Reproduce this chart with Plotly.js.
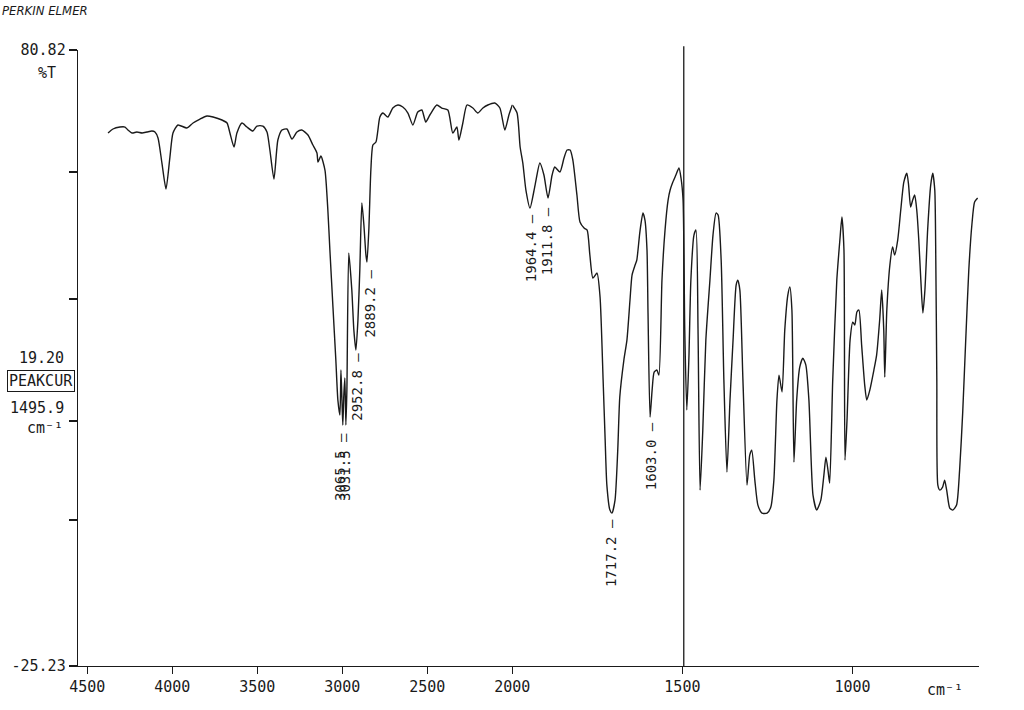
<!DOCTYPE html>
<html>
<head>
<meta charset="utf-8">
<script src="https://cdn.plot.ly/plotly-3.0.1.min.js"></script>
<style>html,body{margin:0;padding:0;background:#fff;}#chart{width:1024px;height:710px;}</style>
</head>
<body>
<div id="chart"></div>
<script>
// Wavenumber (cm-1) and %T
var wavenumber = [4378,4349,4308,4278,4261,4237,4208,4178,4149,4120,4102,4084,4061,4037,4014,3996,3967,3914,3878,3837,3796,3760,3708,3678,3661,3637,3620,3590,3561,3526,3502,3467,3443,3426,3402,3379,3355,3326,3296,3267,3238,3202,3173,3149,3143,3126,3102,3085,3073,3055,3038,3026,3014,3008,3002,2997,2991,2985,2979,2973,2962,2944,2932,2920,2908,2897,2885,2873,2861,2855,2844,2832,2820,2802,2779,2761,2732,2703,2673,2644,2614,2585,2556,2532,2509,2485,2444,2415,2379,2350,2326,2314,2291,2267,2232,2203,2173,2144,2103,2073,2044,2020,2000,
1986,1977,1969,1960,1948,1933,1919,1907,1895,1883,1875,1860,1848,1839,1830,1822,1810,1801,1789,1780,1772,1763,1751,1742,1733,1727,1722,1713,1707,1698,1690,1684,1672,1663,1654,1648,1639,1634,1625,1616,1610,1604,1601,1595,1589,1583,1575,1569,1560,1551,1542,1536,1528,1519,1510,1504,1498,1493,1487,1481,1475,1466,1460,1454,1448,1440,1431,1419,1410,1401,1395,1386,1378,1369,1360,1351,1342,1337,1331,1322,1310,1302,1296,1287,1278,1266,1251,1240,1231,1222,1216,1207,1199,1190,1184,1178,1172,1164,1155,1146,1137,1128,1116,1105,1093,1084,1078,1072,1067,1058,1046,1037,1031,1025,1022,1016,1007,999,993,987,981,973,964,958,949,937,929,920,914,908,905,899,890,882,876,867,858,849,840,835,829,823,817,811,805,799,793,787,779,770,764,758,755,752,749,743,735,729,723,714,705,694,685,676,667,658,649,641,632];
var transmittance = [66.53,67.22,67.56,67.56,67.04,66.53,66.70,66.53,66.70,66.87,66.70,65.67,61.36,56.88,62.39,66.53,67.91,67.39,68.25,68.94,69.46,69.28,68.77,68.25,66.53,64.12,66.53,68.25,67.56,66.87,67.73,67.73,66.70,63.60,58.61,65.32,67.04,67.22,65.49,66.70,67.04,66.18,64.46,63.08,61.53,62.57,60.16,53.27,46.38,36.57,27.44,20.55,17.97,25.72,20.55,16.25,21.41,24.34,16.25,22.27,45.86,39.49,32.60,29.16,34.33,42.94,54.47,50.69,45.52,44.31,49.82,60.16,64.46,64.98,69.28,69.97,69.28,70.83,71.35,71.00,69.97,67.91,70.14,70.49,68.42,69.63,71.35,70.83,70.49,66.53,67.56,65.32,68.25,71.35,70.83,69.97,70.83,71.35,71.69,70.83,67.04,69.63,71.35,
69.97,64.12,61.36,56.71,53.61,57.57,61.36,59.30,55.34,59.30,60.67,59.81,62.22,63.60,63.60,61.88,55.85,51.20,50.17,49.82,45.52,41.56,42.42,38.29,23.99,13.66,5.91,1.61,1.09,3.33,11.94,21.07,27.44,30.88,37.77,42.08,43.80,44.66,49.48,52.75,51.55,46.38,35.53,17.62,22.27,25.37,25.72,24.85,41.21,49.82,54.99,56.71,58.09,59.30,60.50,58.78,54.99,32.60,18.83,27.44,41.21,48.96,49.82,32.60,5.05,15.38,30.88,41.21,48.96,52.75,52.41,44.66,23.99,8.15,20.55,30.88,40.35,41.21,39.49,23.99,5.91,11.08,11.94,6.77,2.47,1.09,1.09,2.13,6.77,20.55,24.85,21.93,32.60,38.63,40.01,36.05,9.87,20.55,26.23,27.78,26.58,20.55,4.19,1.61,3.33,7.64,10.73,8.50,6.26,23.99,41.21,48.10,52.06,46.38,10.22,17.11,30.88,33.98,33.47,35.71,36.05,30.02,23.13,20.55,22.27,25.72,28.30,34.33,39.49,32.60,24.51,36.05,43.80,46.90,45.52,48.10,53.27,58.09,59.63,57.57,53.78,54.99,55.85,53.27,48.10,41.21,35.53,39.49,49.82,57.57,59.63,56.71,44.66,23.99,5.91,5.05,5.56,6.77,5.05,1.95,1.61,2.47,8.50,18.31,30.88,42.94,50.69,54.65,55.34];

// Axis scale values
var yTop = 80.82, yBottom = -25.23;
var yTickVals = [80.82, 59.81, 37.94, 16.93, -0.11, -25.23];
var yTickText = ['80.82', '', '', '', '', '-25.23'];
var xTicksHigh = [4500, 4000, 3500, 3000, 2500, 2000];
var xTicksLow = [1500, 1000];
var splitWn = 2000;

// Peak labels
var peakText = ['3065.5', '3031.5', '2952.8', '2889.2', '1964.4', '1911.8', '1717.2', '1603.0'];
var peakWn   = [3014, 2985, 2915, 2839, 1945, 1898, 1710, 1592];
var peakT    = [15.2, 15.2, 29.0, 43.3, 52.9, 54.1, 0.4, 17.1];

// Peak cursor
var cursorWn = 1495.9, cursorT = '19.20';

var hiX = [], hiY = [], loX = [], loY = [];
for (var i = 0; i < wavenumber.length; i++) {
  if (wavenumber[i] >= splitWn) { hiX.push(wavenumber[i]); hiY.push(transmittance[i]); }
  if (wavenumber[i] <= splitWn) { loX.push(wavenumber[i]); loY.push(transmittance[i]); }
}

var lineStyle = {color: '#1a1a1a', width: 1.4, shape: 'spline', smoothing: 0.6};
var traces = [
  {x: hiX, y: hiY, xaxis: 'x', yaxis: 'y', mode: 'lines', line: lineStyle, hoverinfo: 'skip'},
  {x: loX, y: loY, xaxis: 'x2', yaxis: 'y', mode: 'lines', line: lineStyle, hoverinfo: 'skip'}
];

var FONT = 'DejaVu Sans Mono, Liberation Mono, monospace';
var annotations = [];
for (var k = 0; k < peakText.length; k++) {
  annotations.push({
    text: peakText[k] + ' \u2013', x: peakWn[k], y: peakT[k],
    xref: peakWn[k] >= splitWn ? 'x' : 'x2', yref: 'y',
    textangle: -90, showarrow: false, xanchor: 'center', yanchor: 'top',
    font: {family: FONT, size: 14, color: '#1a1a1a'}
  });
}
function px(v){ return (v - 78) / 901; }
function py(v){ return (666 - v) / 616; }
annotations.push(
  {text: '<i>PERKIN ELMER</i>', xref: 'paper', yref: 'paper', x: px(0), y: py(10), xanchor: 'left', yanchor: 'middle', showarrow: false,
   font: {family: 'DejaVu Sans Condensed, DejaVu Sans', size: 13, color: '#1a1a1a'}},
  {text: '%T', xref: 'paper', yref: 'paper', x: px(47), y: py(73), xanchor: 'center', yanchor: 'middle', showarrow: false,
   font: {family: FONT, size: 15, color: '#1a1a1a'}},
  {text: cursorT, xref: 'paper', yref: 'paper', x: px(66), y: py(358), xanchor: 'right', yanchor: 'middle', showarrow: false,
   font: {family: FONT, size: 15, color: '#1a1a1a'}},
  {text: 'PEAKCUR', xref: 'paper', yref: 'paper', x: px(75), y: py(381), xanchor: 'right', yanchor: 'middle', showarrow: false,
   bordercolor: '#1a1a1a', borderwidth: 1, borderpad: 1,
   font: {family: FONT, size: 15, color: '#1a1a1a'}},
  {text: cursorWn.toFixed(1), xref: 'paper', yref: 'paper', x: px(66), y: py(408), xanchor: 'right', yanchor: 'middle', showarrow: false,
   font: {family: FONT, size: 15, color: '#1a1a1a'}},
  {text: 'cm\u207B\u00B9', xref: 'paper', yref: 'paper', x: px(45), y: py(428), xanchor: 'center', yanchor: 'middle', showarrow: false,
   font: {family: FONT, size: 15, color: '#1a1a1a'}},
  {text: 'cm\u207B\u00B9', xref: 'paper', yref: 'paper', x: px(945), y: py(690), xanchor: 'center', yanchor: 'middle', showarrow: false,
   font: {family: FONT, size: 15, color: '#1a1a1a'}}
);

var splitDomain = (512.3 - 78) / 901;
var axisCommon = {
  showgrid: false, zeroline: false, showline: true, linecolor: '#1a1a1a', linewidth: 1.3,
  ticks: 'outside', ticklen: 7, tickwidth: 1.3, tickcolor: '#1a1a1a',
  tickfont: {family: FONT, size: 15, color: '#1a1a1a'}, fixedrange: true
};
var layout = {
  width: 1024, height: 710,
  margin: {l: 78, r: 45, t: 50, b: 44},
  paper_bgcolor: '#ffffff', plot_bgcolor: '#ffffff',
  showlegend: false,
  xaxis: Object.assign({}, axisCommon, {domain: [0, splitDomain], range: [4554.7, splitWn],
    tickmode: 'array', tickvals: xTicksHigh, ticktext: xTicksHigh.map(String), anchor: 'y'}),
  xaxis2: Object.assign({}, axisCommon, {domain: [splitDomain, 1], range: [splitWn, 628],
    tickmode: 'array', tickvals: xTicksLow, ticktext: xTicksLow.map(String), anchor: 'y'}),
  yaxis: Object.assign({}, axisCommon, {range: [yBottom, yTop], tickmode: 'array',
    tickvals: yTickVals, ticktext: yTickText, ticklen: 8, anchor: 'x'}),
  shapes: [
    {type: 'line', xref: 'x2', yref: 'paper', x0: cursorWn, x1: cursorWn, y0: 0, y1: 1.006,
     line: {color: '#1a1a1a', width: 1.3}}
  ],
  annotations: annotations
};
Plotly.newPlot('chart', traces, layout, {staticPlot: true, displayModeBar: false});
</script>
</body>
</html>
